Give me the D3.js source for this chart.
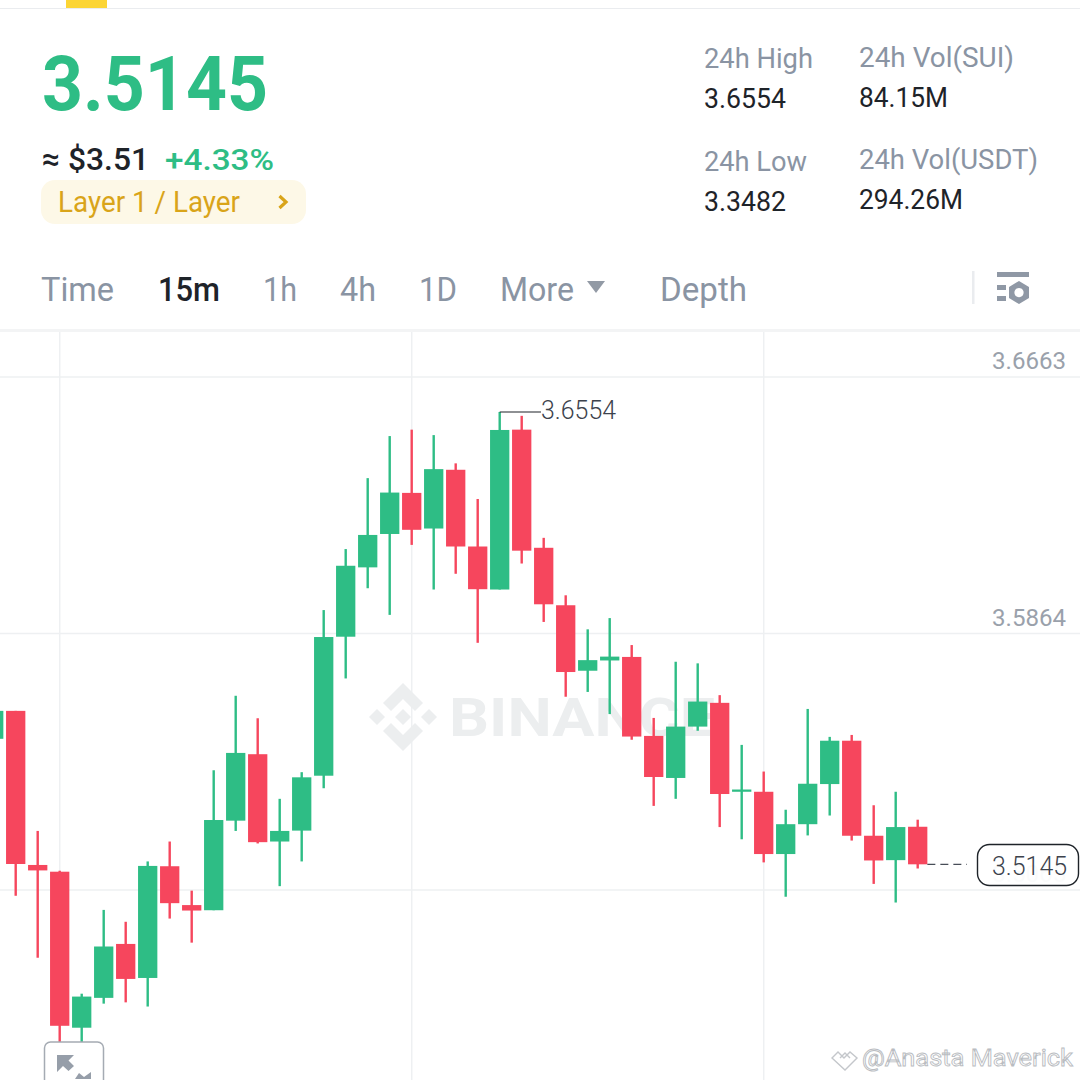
<!DOCTYPE html>
<html>
<head>
<meta charset="utf-8">
<script src="https://cdn.jsdelivr.net/npm/d3@7"></script>
<style>
  html, body { margin: 0; padding: 0; background: #fff; }
  svg { display: block; font-family: Roboto, sans-serif; }
</style>
</head>
<body>
<svg id="chart" width="1080" height="1080"></svg>
<script>
// Candles, left to right (first one is cut by the edge)
const opens = [3.5536,3.5623,3.5143,3.5122,3.4636,3.4729,3.4897,3.4791,3.5139,3.5018,3.5002,3.5281,3.5488,3.5216,3.5250,3.5421,3.5854,3.6070,3.6174,3.6302,3.6191,3.6374,3.6135,3.6001,3.6499,3.6131,3.5952,3.5748,3.5780,3.5791,3.5545,3.5414,3.5574,3.5648,3.5371,3.5371,3.5177,3.5270,3.5395,3.5530,3.5234,3.5158,3.5262];
const closes = [3.5623,3.5146,3.5126,3.4642,3.4733,3.4889,3.4788,3.5140,3.5024,3.5001,3.5283,3.5492,3.5214,3.5249,3.5416,3.5853,3.6075,3.6171,3.6303,3.6187,3.6376,3.6135,3.6002,3.6498,3.6122,3.5955,3.5744,3.5781,3.5792,3.5543,3.5417,3.5574,3.5652,3.5364,3.5378,3.5177,3.5270,3.5396,3.5530,3.5234,3.5157,3.5261,3.5145];
const highs = [3.5623,3.5623,3.5249,3.5125,3.4742,3.5003,3.4966,3.5154,3.5216,3.5063,3.5438,3.5670,3.5600,3.5349,3.5432,3.5937,3.6127,3.6348,3.6479,3.6499,3.6482,3.6394,3.6283,3.6554,3.6542,3.6162,3.5983,3.5877,3.5912,3.5828,3.5601,3.5776,3.5771,3.5672,3.5517,3.5434,3.5315,3.5629,3.5542,3.5548,3.5329,3.5371,3.5284];
const lows = [3.5536,3.5047,3.4854,3.4567,3.4567,3.4711,3.4715,3.4702,3.4976,3.4901,3.5002,3.5249,3.5210,3.5077,3.5154,3.5382,3.5724,3.6005,3.5922,3.6140,3.6001,3.6050,3.5835,3.6001,3.6082,3.5900,3.5667,3.5682,3.5613,3.5533,3.5327,3.5349,3.5561,3.5261,3.5223,3.5151,3.5044,3.5235,3.5297,3.5219,3.5084,3.5026,3.5132];

const priceTicks = [3.6663, 3.5864, 3.5065];
const gridCandles = [3, 19, 35];
const lastPrice = 3.5145;
const maxPrice = 3.6554;
const maxCandle = 23;

const tabs = ["Time", "15m", "1h", "4h", "1D", "More", "Depth"];
const tabX = [41, 158, 263, 340, 419, 500, 660];
const tabW = [73, 62, 34, 36, 38, 74, 87];
const stats = [
  ["24h High", "3.6554", 704, 68, 109, 82],
  ["24h Vol(SUI)", "84.15M", 859, 67, 155, 89],
  ["24h Low", "3.3482", 704, 171, 103, 82],
  ["24h Vol(USDT)", "294.26M", 859, 169, 179, 104]
];

const green = "#2ebd85", red = "#f6465d", grey = "#8a94a3", dark = "#1e2329", gridCol = "#eef0f2";

const svg = d3.select("#chart");

const x = d3.scaleLinear().domain([0, opens.length - 1]).range([-6.3, 917.7]);
const y = d3.scaleLinear().domain([priceTicks[0], priceTicks[2]]).range([377, 890]);
const bodyW = 19.3;

function label(g, str, px, py, size, fill, weight, anchor) {
  return g.append("text").attr("x", px).attr("y", py)
    .attr("font-size", size).attr("fill", fill)
    .attr("font-weight", weight || 400)
    .attr("text-anchor", anchor || "start")
    .text(str);
}

function fit(sel, w) {
  return sel.attr("textLength", w).attr("lengthAdjust", "spacingAndGlyphs");
}

// -------------------------------------
// Header
// -------------------------------------
const head = svg.append("g");

head.append("rect").attr("x", 0).attr("y", 8).attr("width", 1080).attr("height", 1).attr("fill", "#eaecef");
head.append("rect").attr("x", 66).attr("y", 0).attr("width", 41).attr("height", 8).attr("fill", "#fcd535");

fit(label(head, "3.5145", 42, 110, 76, green, 700), 226);
fit(label(head, "≈ $3.51", 42, 170, 32, dark, 500), 107);
fit(label(head, "+4.33%", 165, 170, 30, green, 500), 109);

head.append("rect").attr("x", 41).attr("y", 180).attr("width", 265).attr("height", 44).attr("rx", 14).attr("fill", "#fdf8e7");
fit(label(head, "Layer 1 / Layer", 58, 212, 29, "#d9a419"), 182);
head.append("path").attr("d", "M279.5 196 L286 202 L279.5 208").attr("fill", "none")
  .attr("stroke", "#d9a419").attr("stroke-width", 3.2);

stats.forEach(s => {
  fit(label(head, s[0], s[2], s[3], 28, grey), s[4]);
  fit(label(head, s[1], s[2], s[3] + 40, 27, dark), s[5]);
});

tabs.forEach((t, i) => {
  fit(label(head, t, tabX[i], 301, 33, t === "15m" ? dark : grey, t === "15m" ? 500 : 400), tabW[i]);
});
head.append("path").attr("d", "M587 281 H605 L596 293 Z").attr("fill", "#929aa5");
head.append("rect").attr("x", 972).attr("y", 271).attr("width", 2.5).attr("height", 33).attr("fill", "#eaecef");

// settings icon
const icon = head.append("g").attr("fill", "#8f98a5");
icon.append("rect").attr("x", 997).attr("y", 272).attr("width", 32).attr("height", 5);
icon.append("rect").attr("x", 997).attr("y", 285).attr("width", 9).attr("height", 5);
icon.append("rect").attr("x", 997).attr("y", 296).attr("width", 9).attr("height", 5);
icon.append("path").attr("fill-rule", "evenodd")
  .attr("d", "M1019 281 L1029 287 V298 L1019 304 L1009 298 V287 Z M1019 288 a4.6 4.6 0 1 0 0.01 0 Z");

head.append("rect").attr("x", 0).attr("y", 329).attr("width", 1080).attr("height", 3).attr("fill", "#f3f4f5");

// -------------------------------------
// Grid + watermark, under the candles
// -------------------------------------
const grid = svg.append("g");

grid.selectAll(".h").data(priceTicks).enter().append("line")
  .attr("x1", 0).attr("x2", 1080)
  .attr("y1", d => y(d)).attr("y2", d => y(d))
  .attr("stroke", gridCol).attr("stroke-width", 1.5);

grid.selectAll(".v").data(gridCandles).enter().append("line")
  .attr("x1", d => x(d)).attr("x2", d => x(d))
  .attr("y1", 332).attr("y2", 1080)
  .attr("stroke", gridCol).attr("stroke-width", 1.5);

const mark = svg.append("g").attr("fill", "#eceeef");
mark.append("path").attr("transform", "translate(403,717)")
  .attr("d", "M0 -34 L20 -14 L12 -6 L0 -18 L-12 -6 L-20 -14 Z M0 34 L-20 14 L-12 6 L0 18 L12 6 L20 14 Z M-26 -8 L-18 0 L-26 8 L-34 0 Z M26 -8 L34 0 L26 8 L18 0 Z M0 -8 L8 0 L0 8 L-8 0 Z");
fit(label(mark, "BINANCE", 449, 736, 54, "#eceeef", 700), 266);

fit(label(grid, "3.6663", 992, 369, 24, "#9aa1ab"), 74);
fit(label(grid, "3.5864", 992, 626, 24, "#9aa1ab"), 74);

// -------------------------------------
// Candles
// -------------------------------------
const candle = svg.append("g").selectAll("g")
  .data(opens.map((o, i) => ({ i, o, c: closes[i], h: highs[i], l: lows[i] })))
  .enter().append("g")
  .attr("fill", d => d.c >= d.o ? green : red);

candle.append("rect")
  .attr("x", d => x(d.i) - 1.2).attr("width", 2.4)
  .attr("y", d => y(d.h)).attr("height", d => y(d.l) - y(d.h));

candle.append("rect")
  .attr("x", d => x(d.i) - bodyW / 2).attr("width", bodyW)
  .attr("y", d => y(Math.max(d.o, d.c)))
  .attr("height", d => Math.max(2, Math.abs(y(d.o) - y(d.c))));

// -------------------------------------
// Max marker, last price
// -------------------------------------
const notes = svg.append("g");

notes.append("line")
  .attr("x1", x(maxCandle)).attr("x2", 541)
  .attr("y1", y(maxPrice)).attr("y2", y(maxPrice))
  .attr("stroke", dark).attr("stroke-width", 1.2);
fit(label(notes, maxPrice.toFixed(4), 541, y(maxPrice) + 7, 25, "#3c424c", 300), 75);

notes.append("line")
  .attr("x1", x(opens.length - 1) + bodyW / 2).attr("x2", 967)
  .attr("y1", y(lastPrice)).attr("y2", y(lastPrice))
  .attr("stroke", "#474d57").attr("stroke-width", 1.3).attr("stroke-dasharray", "8 5");

// axis label for the bottom grid line, nearly hidden behind the price box
label(notes, priceTicks[2].toFixed(4), 1066, 882, 24, "#eceeef", 400, "end");
notes.append("rect").attr("x", 977.5).attr("y", 844.5).attr("width", 101).attr("height", 41).attr("rx", 12)
  .attr("fill", "#fff").attr("fill-opacity", 0.75).attr("stroke", dark).attr("stroke-width", 1.4);
fit(label(notes, lastPrice.toFixed(4), 992, 875, 25, "#3c424c", 300), 75);

// -------------------------------------
// Expand button + post watermark
// -------------------------------------
const btn = svg.append("g");
btn.append("rect").attr("x", 44.5).attr("y", 1042).attr("width", 59).attr("height", 60).attr("rx", 6)
  .attr("fill", "#fff").attr("stroke", "#a5abb3").attr("stroke-width", 1.5);
btn.append("path").attr("fill", "#969ea9")
  .attr("d", "M57 1055 H74 L68.5 1060.5 L74 1066 L68.5 1071 L63 1066 L57 1072 Z M91 1079 H75 L79 1073 L84 1077 L91 1072 Z");

const sign = svg.append("g");
sign.append("path").attr("fill", "none").attr("stroke", "#c4c7cb").attr("stroke-width", 1.4)
  .attr("d", "M832 1058 L838 1052 L844 1058 L850 1052 L857 1058 L845 1070 Z M840 1058 L845 1053 L850 1058");
fit(label(sign, "@Anasta Maverick", 862, 1066, 24.5, "#fff", 400)
  .attr("stroke", "#b9bcc1").attr("stroke-width", 0.9), 211);
</script>
</body>
</html>
